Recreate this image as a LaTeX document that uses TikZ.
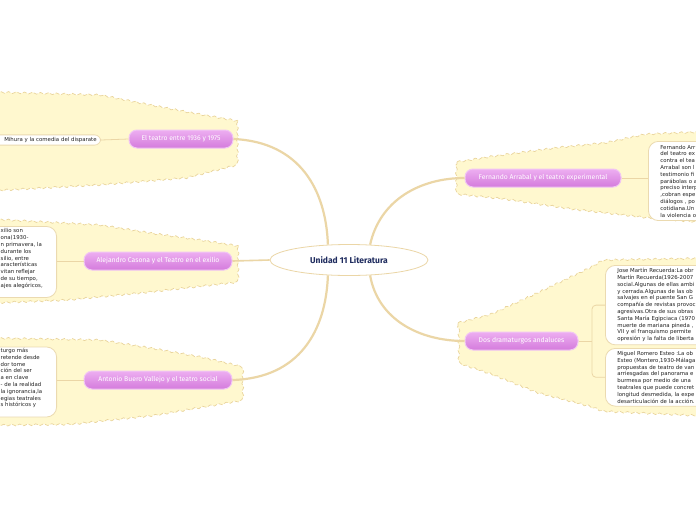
\documentclass[tikz,border=0pt]{standalone}
\usepackage{fontspec}
\setmainfont{DejaVu Sans}
\newfontfamily\topicfont{Fira Sans}
\usetikzlibrary{decorations.pathmorphing,shapes.geometric}
\definecolor{cloudfill}{HTML}{FFF8CF}
\definecolor{cloudline}{HTML}{E9D49C}
\definecolor{tanline}{HTML}{EBD6A6}
\definecolor{pinktop}{HTML}{EDAEF1}
\definecolor{pinkbot}{HTML}{D47BDC}
\definecolor{pinkline}{HTML}{F1C6F3}
\definecolor{navy}{HTML}{1E2B5E}
\definecolor{boxline}{HTML}{EBDAB0}
\definecolor{bodytext}{HTML}{222222}
\tikzset{
  cloud/.style={fill=cloudfill, draw=cloudline, line width=0.7pt,
    dash pattern=on 4pt off 2pt, decorate,
    decoration={snake, amplitude=0.9pt, segment length=8pt}},
  topic/.style={rounded corners=8pt, draw=pinkline, line width=1pt,
    top color=pinktop, bottom color=pinkbot, text=white,
    font=\topicfont\fontsize{6.8}{8}\selectfont, minimum height=18pt, inner sep=0pt},
  boxshape/.style={draw=boxline, line width=0.8pt, fill=white, rounded corners=10pt},
  bodyfont/.style={font=\fontsize{5.4}{6.8}\selectfont, text=bodytext},
  thickcon/.style={draw=tanline, line width=2.2pt},
  thincon/.style={draw=tanline, line width=0.8pt},
}
\begin{document}
\begin{tikzpicture}[x=1pt,y=-1pt]
\useasboundingbox (0,0) rectangle (696,520);
\fill[white] (0,0) rectangle (696,520);

% clouds
\path[cloud] (-10,92) -- (100,95) -- (140,103) -- (187,112) -- (238,121) -- (238,162) -- (187,175) -- (100,182) -- (-10,188) -- cycle;
\path[cloud] (-10,219) -- (100,225) -- (150,233) -- (200,240) -- (238,246) -- (238,280) -- (150,290) -- (67,298) -- (-10,301) -- cycle;
\path[cloud] (-10,338) -- (100,340) -- (150,348) -- (200,357) -- (238,366) -- (238,398) -- (150,413) -- (67,422) -- (-10,423) -- cycle;
\path[cloud] (457,162) -- (488,157) -- (555,148) -- (605,143) -- (642,135) -- (710,132) -- (710,226) -- (642,220) -- (572,212) -- (505,202) -- (457,197) -- cycle;
\path[cloud] (458,323) -- (488,315) -- (538,292) -- (588,268) -- (602,260) -- (710,258) -- (710,418) -- (602,413) -- (588,408) -- (538,395) -- (488,375) -- (458,365) -- cycle;

% central node
\node[ellipse, draw=tanline, line width=0.8pt, fill=white, minimum width=158pt, minimum height=31pt,
  font=\topicfont\bfseries\fontsize{8.5}{10}\selectfont, text=navy] (c) at (349,260) {Unidad 11 Literatura};

% topics
\node[topic, minimum width=104pt] (t1) at (181,139) {El teatro entre 1936 y 1975};
\node[topic, minimum width=148pt] (t2) at (158,261) {Alejandro Casona y el Teatro en el exilio};
\node[topic, minimum width=148pt] (t3) at (158,380) {Antonio Buero Vallejo y el teatro social};
\node[topic, minimum width=156pt] (t4) at (543,178) {Fernando Arrabal y el teatro experimental};
\node[topic, minimum width=113pt] (t5) at (521.5,341) {Dos dramaturgos andaluces};

% main connectors
\draw[thickcon] (c.144) .. controls (326,190) and (300,142) .. (t1.east);
\draw[thickcon, line width=1.6pt] (c.west) -- (t2.east);
\draw[thickcon] (c.216) .. controls (326,330) and (300,378) .. (t3.east);
\draw[thickcon] (c.36) .. controls (380,200) and (420,178) .. (t4.west);
\draw[thickcon] (c.324) .. controls (378,320) and (420,341) .. (t5.west);

% detail boxes
\node[boxshape, rounded corners=6pt, bodyfont, anchor=east, text width=104pt, align=right, inner xsep=4pt, inner ysep=2.5pt] (mb) at (101,140) {Mihura y la comedia del disparate};

\node[boxshape, anchor=east, minimum width=120pt, minimum height=71pt] (b2) at (57,262) {};
\node[bodyfont, anchor=north west, inner sep=0pt, align=left] (b2t) at (0.5,228.5) {xilio son\\ona(1930-\\n primavera, la\\durante los\\silio, entre\\aracterísticas\\vitan reflejar\\de su tiempo,\\ajes alegóricos,};

\node[boxshape, anchor=east, minimum width=120pt, minimum height=70pt] (b3) at (57,382) {};
\node[bodyfont, anchor=north west, inner sep=0pt, align=left] (b3t) at (0.5,348) {turgo más\\retende desde\\dor tome\\ción del ser\\a en clave\\- de la realidad\\la ignorancia,la\\egias teatrales\\s históricos y};

\node[boxshape, bodyfont, anchor=north west, text width=100pt, align=left, inner xsep=12pt, inner ysep=3.5pt] (b4) at (648,141) {Fernando Arr\\del teatro ex\\contra el tea\\Arrabal son l\\testimonio fi\\parábolas o a\\preciso interp\\,cobran espe\\diálogos , po\\cotidiana.Un\\la violencia o};

\node[boxshape, bodyfont, anchor=north west, text width=100pt, align=left, inner xsep=12pt, inner ysep=3pt] (b5a) at (605,265) {Jose Martín Recuerda:La obr\\Martín Recuerda(1926-2007\\social.Algunas de ellas ambi\\y cerrada.Algunas de las ob\\salvajes en el puente San G\\compañía de revistas provoc\\agresivas.Otra de sus obras\\Santa María Egipciaca (1970\\muerte de mariana pineda ,\\VII y el franquismo permite\\opresión y la falta de liberta};

\node[boxshape, bodyfont, anchor=north west, text width=100pt, align=left, inner xsep=12pt, inner ysep=3pt] (b5b) at (605,348) {Miguel Romero Esteo :La ob\\Esteo (Montero,1930-Málaga\\propuestas de teatro de van\\arriesgadas del panorama e\\burmesa por medio de una\\teatrales que puede concret\\longitud desmedida, la expe\\desarticulación de la acción.};

% thin connectors
\draw[thincon] (t1.west) -- (mb.east);
\draw[thincon] (t2.west) -- (t2.west -| b2.east);
\draw[thincon] (t3.west) -- (t3.west -| b3.east);
\draw[thincon] (t4.east) -- (t4.east -| b4.west);
\coordinate (j5) at (592,341);
\draw[thincon] (t5.east) -- (j5);
\draw[thincon, rounded corners=4pt] (b5a.west) -| (j5) |- (b5b.west);
\end{tikzpicture}
\end{document}
